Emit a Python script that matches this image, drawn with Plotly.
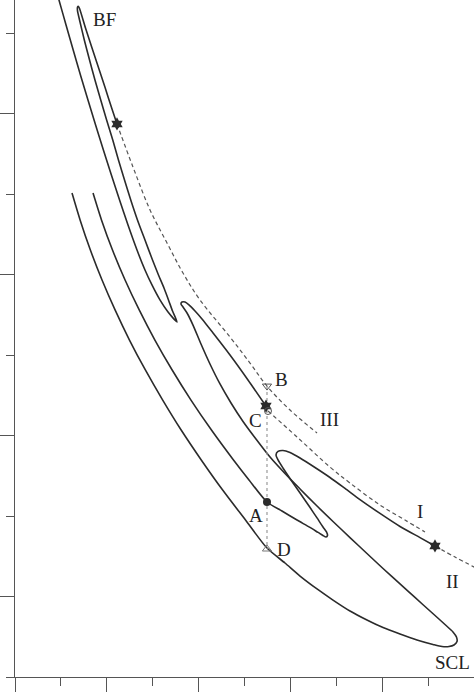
import plotly.graph_objects as go

# ---- curve data (arbitrary units) ----
# branch S: outer solid branch -> cusp -> BF turning point -> BF end star
s_x = [0.458, 0.479, 0.556, 0.634, 0.713, 0.795, 0.878, 0.963, 1.050, 1.139, 1.231, 1.329, 1.416, 1.492,
       1.579, 1.667, 1.765,
       1.716, 1.672, 1.623, 1.563, 1.498, 1.416, 1.334, 1.261, 1.193, 1.127, 1.065, 0.998, 0.934, 0.871,
       0.812, 0.755, 0.703, 0.681, 0.681, 0.692, 0.703,
       0.768, 0.839, 0.911, 0.983, 1.053, 1.111]
s_y = [4.248, 4.205, 4.050, 3.894, 3.739, 3.584, 3.429, 3.273, 3.118, 2.963, 2.807, 2.652, 2.528, 2.435,
       2.342, 2.267, 2.205,
       2.273, 2.342, 2.416, 2.497, 2.590, 2.714, 2.839, 2.963, 3.087, 3.211, 3.335, 3.460, 3.584, 3.708,
       3.832, 3.957, 4.081, 4.137, 4.161, 4.165, 4.152,
       4.031, 3.907, 3.783, 3.658, 3.534, 3.435]

# branch Q: through A, small loop, then branch I to the star
q_x = [0.850, 0.942, 1.062, 1.199, 1.353, 1.524, 1.712, 1.917, 2.140, 2.380, 2.549, 2.745,
       2.908, 3.072, 3.213, 3.301, 3.355, 3.388, 3.404, 3.393, 3.355, 3.290, 3.203, 3.105, 3.006, 2.919,
       2.865, 2.843, 2.865, 2.919, 2.996, 3.105, 3.268, 3.431, 3.595, 3.758, 3.976, 4.194, 4.412, 4.575]
q_y = [3.006, 2.839, 2.652, 2.466, 2.280, 2.093, 1.907, 1.720, 1.534, 1.348, 1.224, 1.087,
       1.031, 0.975, 0.929, 0.898, 0.879, 0.870, 0.879, 0.901, 0.932, 0.988, 1.062, 1.143, 1.224, 1.298,
       1.348, 1.379, 1.401, 1.407, 1.394, 1.360, 1.301, 1.239, 1.171, 1.102, 1.016, 0.935, 0.866, 0.814]

# branch T: through D, SCL loop, back up to turning point and down to C
t_x = [0.621, 0.709, 0.821, 0.948, 1.090, 1.247, 1.420, 1.609, 1.810, 2.029, 2.262, 2.511, 2.745,
       2.941, 3.105, 3.290, 3.464, 3.649, 3.834, 4.009, 4.194, 4.379, 4.553, 4.651, 4.728, 4.782, 4.815,
       4.809, 4.771, 4.684, 4.521, 4.357, 4.194, 4.009, 3.834, 3.649, 3.464, 3.279, 3.105, 2.941, 2.778,
       2.625, 2.484, 2.353, 2.233, 2.124, 2.026, 1.939, 1.874, 1.830, 1.808, 1.819, 1.852, 1.895, 1.961,
       2.037, 2.157, 2.342, 2.538, 2.734]
t_y = [3.006, 2.839, 2.652, 2.466, 2.280, 2.093, 1.907, 1.720, 1.534, 1.348, 1.161, 0.975, 0.801,
       0.708, 0.627, 0.547, 0.478, 0.410, 0.354, 0.307, 0.267, 0.230, 0.202, 0.189, 0.189, 0.199, 0.220,
       0.248, 0.280, 0.326, 0.410, 0.494, 0.578, 0.674, 0.767, 0.866, 0.966, 1.068, 1.168, 1.264, 1.366,
       1.478, 1.587, 1.702, 1.820, 1.944, 2.068, 2.186, 2.261, 2.298, 2.317, 2.329, 2.329, 2.311, 2.273,
       2.224, 2.137, 2.000, 1.845, 1.683]

# unstable (dashed) branches
d1_x = [1.111, 1.285, 1.471, 1.656, 1.830, 2.015, 2.342, 2.560, 2.745, 2.996, 3.290]
d1_y = [3.435, 3.168, 2.901, 2.696, 2.509, 2.342, 2.112, 1.950, 1.807, 1.658, 1.516]
d2_x = [2.756, 3.072, 3.431, 3.649, 3.976, 4.248, 4.466]
d2_y = [1.652, 1.491, 1.304, 1.205, 1.068, 0.975, 0.901]
d3_x = [4.575, 4.793, 5.022]
d3_y = [0.814, 0.745, 0.677]

# vertical dotted connector B-D
v_x = [2.745, 2.745]
v_y = [1.807, 0.795]

# special points
star_x = [1.111, 2.734, 4.575]
star_y = [3.435, 1.683, 0.814]
A_pt = (2.745, 1.087)
B_pt = (2.745, 1.807)
Cc_pt = (2.756, 1.652)
D_pt = (2.745, 0.795)

# labels
lab_text = ["BF", "B", "C", "III", "I", "II", "A", "D", "SCL"]
lab_x = [0.980, 2.898, 2.625, 3.431, 4.412, 4.771, 2.625, 2.930, 4.771]
lab_y = [4.081, 1.845, 1.596, 1.602, 1.031, 0.596, 1.006, 0.795, 0.087]

LINE = "#2b2b2b"
fig = go.Figure()
for xs, ys in [(s_x, s_y), (q_x, q_y), (t_x, t_y)]:
    fig.add_trace(go.Scatter(x=xs, y=ys, mode="lines",
                             line=dict(color=LINE, width=1.6, shape="spline", smoothing=0.7),
                             hoverinfo="skip", showlegend=False))
for xs, ys in [(d1_x, d1_y), (d2_x, d2_y), (d3_x, d3_y)]:
    fig.add_trace(go.Scatter(x=xs, y=ys, mode="lines",
                             line=dict(color="#555555", width=1.2, dash="4px,3px", shape="spline"),
                             hoverinfo="skip", showlegend=False))
fig.add_trace(go.Scatter(x=v_x, y=v_y, mode="lines", line=dict(color="#9a9a9a", width=1.2, dash="dot"),
                         hoverinfo="skip", showlegend=False))
fig.add_trace(go.Scatter(x=star_x, y=star_y, mode="markers",
                         marker=dict(symbol="hexagram", size=10, color=LINE, line=dict(width=0)),
                         showlegend=False))
fig.add_trace(go.Scatter(x=[A_pt[0]], y=[A_pt[1]], mode="markers",
                         marker=dict(symbol="circle", size=8, color=LINE), showlegend=False))
fig.add_trace(go.Scatter(x=[B_pt[0]], y=[B_pt[1]], mode="markers",
                         marker=dict(symbol="triangle-down-open", size=8, color="#555555", line=dict(width=1)),
                         showlegend=False))
fig.add_trace(go.Scatter(x=[Cc_pt[0]], y=[Cc_pt[1]], mode="markers",
                         marker=dict(symbol="circle-open", size=7, color="#555555", line=dict(width=1)),
                         showlegend=False))
fig.add_trace(go.Scatter(x=[D_pt[0]], y=[D_pt[1]], mode="markers",
                         marker=dict(symbol="triangle-up-open", size=8, color="#777777", line=dict(width=1)),
                         showlegend=False))

for t, x, y in zip(lab_text, lab_x, lab_y):
    fig.add_annotation(x=x, y=y, text=t, showarrow=False, xanchor="center", yanchor="middle",
                       font=dict(family="Liberation Serif, Times New Roman, serif", size=19, color="#222222"))

AX = "#555555"
fig.update_layout(
    width=474, height=692,
    margin=dict(l=15, r=0, t=0, b=15),
    paper_bgcolor="white", plot_bgcolor="white",
    showlegend=False,
    xaxis=dict(range=[0, 5], showline=True, linecolor=AX, linewidth=1.2, ticks="outside", ticklen=15,
               tickwidth=1.2, tickcolor=AX, tick0=0, dtick=1, showticklabels=False, showgrid=False,
               zeroline=False, fixedrange=True,
               minor=dict(ticks="outside", ticklen=8, tickwidth=1.2, tickcolor=AX, tick0=0, dtick=0.5,
                          showgrid=False)),
    yaxis=dict(range=[0, 4.205], showline=True, linecolor=AX, linewidth=1.2, ticks="outside", ticklen=15,
               tickwidth=1.2, tickcolor=AX, tick0=0.5, dtick=1, showticklabels=False, showgrid=False,
               zeroline=False, fixedrange=True,
               minor=dict(ticks="outside", ticklen=8, tickwidth=1.2, tickcolor=AX, tick0=0, dtick=0.5,
                          showgrid=False)),
)
fig.write_html("out.html", config={"displayModeBar": False},
               post_script="document.body.style.margin='0';document.body.style.padding='0';")
